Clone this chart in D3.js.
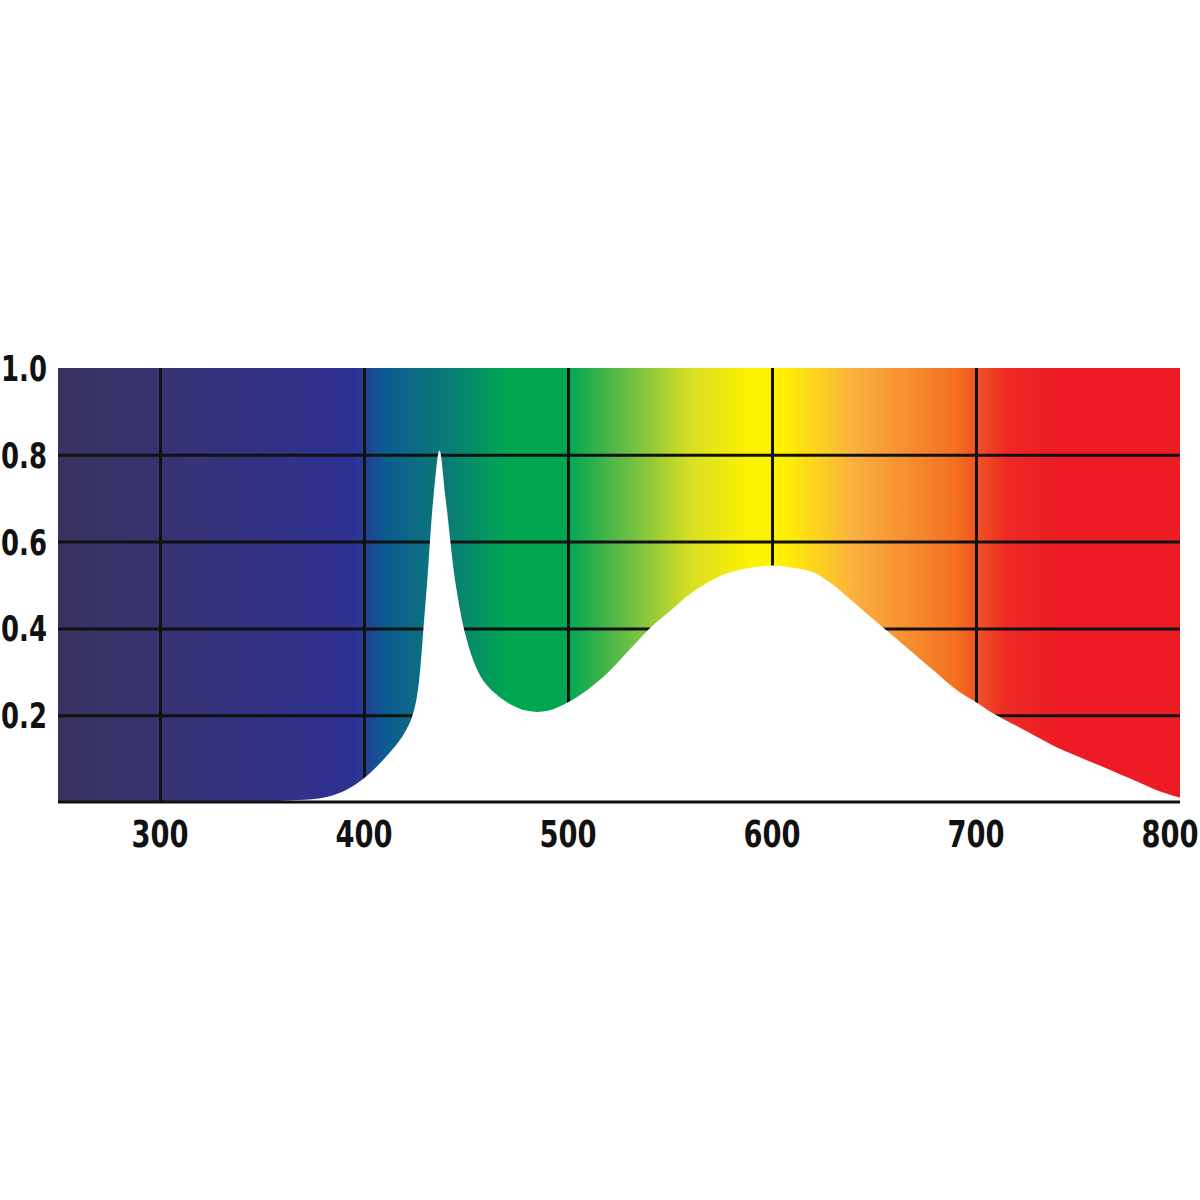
<!DOCTYPE html>
<html><head><meta charset="utf-8">
<script src="https://cdn.jsdelivr.net/npm/d3@7"></script>
<style>body{margin:0;background:#fff}</style>
</head><body><div id="chart"></div>
<script>
// spectrum of the lamp (relative intensity per wavelength, nm)
const wavelengths = [250,300,330,360,380,390,400,410,420,425,430,434,437,440,445,450,455,460,470,480,490,500,510,520,530,540,550,560,570,580,590,600,610,620,630,640,650,660,670,680,690,700,710,720,730,740,750,760,770,780,790,800];
const intensity   = [0,0,0,0.003,0.01,0.025,0.055,0.1,0.16,0.22,0.45,0.7,0.81,0.7,0.5,0.38,0.31,0.27,0.23,0.21,0.21,0.23,0.26,0.3,0.35,0.4,0.44,0.48,0.51,0.53,0.54,0.545,0.54,0.53,0.5,0.46,0.42,0.38,0.34,0.3,0.26,0.23,0.2,0.175,0.15,0.125,0.105,0.085,0.065,0.045,0.025,0.01];

// background colour bands
const bandNm     = [250,320,395,410,440,470,500,530,560,590,605,640,690,715,740,800];
const bandColors = ["#38335f","#36337a","#2e3192","#0c5b92","#0a7a78","#00a651","#00a651","#6cbe45","#d7df23","#fff200","#fff200","#fbb040","#f37021","#ed2a24","#ed1c24","#ed1c24"];

const xTicks = [300,400,500,600,700,800];
const yTicks = [0.2,0.4,0.6,0.8,1.0];

const W = 1200, H = 1200;
const x = d3.scaleLinear().domain([250,800]).range([58,1180]);
const y = d3.scaleLinear().domain([0,1]).range([802,368]);

const svg = d3.select("#chart").append("svg").attr("width",W).attr("height",H);

const grad = svg.append("defs").append("linearGradient")
  .attr("id","spec").attr("gradientUnits","userSpaceOnUse")
  .attr("x1",x(250)).attr("x2",x(800)).attr("y1",0).attr("y2",0);
grad.selectAll("stop").data(bandNm).enter().append("stop")
  .attr("offset",d => (x(d)-x(250))/(x(800)-x(250)))
  .attr("stop-color",(d,i) => bandColors[i]);

svg.append("rect")
  .attr("x",x(250)).attr("y",y(1)).attr("width",x(800)-x(250)).attr("height",y(0)-y(1))
  .attr("fill","url(#spec)");

// grid
svg.append("g")
  .attr("transform",`translate(0,${y(0)})`)
  .call(d3.axisBottom(x).tickValues(xTicks.slice(0,-1)).tickSize(-(y(0)-y(1))).tickFormat(""))
  .call(g => g.select(".domain").remove())
  .call(g => g.selectAll("line").attr("stroke","#111").attr("stroke-width",3));
svg.append("g")
  .attr("transform",`translate(${x(250)},0)`)
  .call(d3.axisLeft(y).tickValues(yTicks.slice(0,-1)).tickSize(-(x(800)-x(250))).tickFormat(""))
  .call(g => g.select(".domain").remove())
  .call(g => g.selectAll("line").attr("stroke","#111").attr("stroke-width",3));

// white spectrum area
const pts = wavelengths.map((w,i) => [w,intensity[i]]);
svg.append("path").datum(pts)
  .attr("fill","#fff")
  .attr("d", d3.area().x(d => x(d[0])).y0(y(0)).y1(d => y(d[1])).curve(d3.curveCatmullRom.alpha(0.5)));

// baseline
svg.append("line").attr("x1",x(250)).attr("x2",x(800)).attr("y1",y(0)).attr("y2",y(0))
  .attr("stroke","#111").attr("stroke-width",3);

// condensed bold labels (horizontal squeeze)
const font = "'DejaVu Sans',sans-serif";
svg.selectAll(".xl").data(xTicks).enter().append("text")
  .attr("transform",d => `translate(${d === 800 ? 1170 : x(d)},847) scale(0.72,1)`)
  .attr("text-anchor","middle")
  .style("font-family",font).style("font-weight","bold").style("font-size","38px")
  .attr("fill","#111").text(d => d);
svg.selectAll(".yl").data(yTicks).enter().append("text")
  .attr("transform",d => `translate(47,${y(d)+13}) scale(0.72,1)`)
  .attr("text-anchor","end")
  .style("font-family",font).style("font-weight","bold").style("font-size","36px")
  .attr("fill","#111").text(d => d.toFixed(1));
</script></body></html>
